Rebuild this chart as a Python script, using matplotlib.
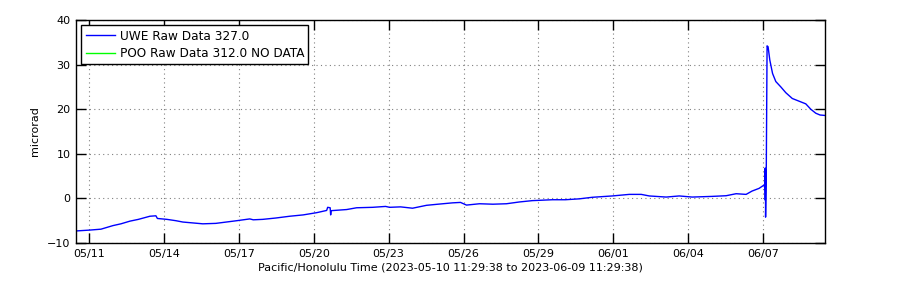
import datetime as dt
import matplotlib
matplotlib.use("Agg")
import matplotlib.pyplot as plt
import matplotlib.dates as mdates
from matplotlib.ticker import FixedLocator

start = dt.datetime(2023, 5, 10, 11, 29, 38)
end = dt.datetime(2023, 6, 9, 11, 29, 38)

# days after start, microrad
day_offset = [0.0, 0.56, 1.0, 1.48, 1.8, 2.16, 2.5, 2.96, 3.2, 3.26, 3.64, 4.0, 4.28,
              5.08, 5.6, 6.44, 6.96, 7.1, 7.48, 8.0, 8.56, 9.1, 9.64, 10.04, 10.08,
              10.18, 10.2, 10.22, 10.84, 11.24, 11.88, 12.4, 12.56, 13.0, 13.48, 14.04,
              14.5, 15.08, 15.4, 15.64, 16.16, 16.7, 17.24, 17.76, 18.28, 19.08, 19.6,
              20.16, 20.68, 21.48, 22.16, 22.64, 22.96, 23.64, 24.16, 24.68, 25.48,
              26.04, 26.44, 26.84, 27.08, 27.36, 27.56, 27.6, 27.605, 27.61, 27.615,
              27.62, 27.65, 27.68, 27.72, 27.79, 27.9, 28.03, 28.23, 28.43, 28.69,
              28.96, 29.23, 29.43, 29.63, 29.8, 30.0]
uwe_values = [-7.3, -7.1, -6.9, -6.1, -5.7, -5.1, -4.7, -4.0, -3.9, -4.5, -4.7, -5.0, -5.3,
              -5.7, -5.6, -5.0, -4.6, -4.8, -4.7, -4.4, -4.0, -3.7, -3.2, -2.7, -2.0,
              -2.1, -3.7, -2.75, -2.5, -2.1, -2.0, -1.8, -2.0, -1.9, -2.2, -1.55,
              -1.3, -1.0, -0.9, -1.5, -1.2, -1.3, -1.2, -0.8, -0.5, -0.3, -0.3,
              -0.1, 0.25, 0.55, 0.9, 0.9, 0.55, 0.3, 0.55, 0.3, 0.45,
              0.6, 1.05, 0.9, 1.65, 2.25, 3.0, 2.0, 6.8, -0.4, 6.5,
              -4.2, 7.9, 34.2, 34.0, 31.0, 28.0, 26.2, 25.0, 23.7, 22.4,
              21.8, 21.2, 20.0, 19.1, 18.7, 18.6]
poo_days = []
poo_values = []

tick_dates = [dt.datetime(2023, 5, 11) + dt.timedelta(days=3 * i) for i in range(10)]
y_ticks = [-10, 0, 10, 20, 30, 40]

uwe_times = [start + dt.timedelta(days=d) for d in day_offset]
poo_times = [start + dt.timedelta(days=d) for d in poo_days]

fig = plt.figure(figsize=(9, 3), dpi=100)
ax = fig.add_axes([76 / 900, 57 / 300, 749 / 900, 223 / 300])

ax.plot(uwe_times, uwe_values, color=(0, 0, 1), lw=1.0, label="UWE Raw Data 327.0")
ax.plot(poo_times, poo_values, color=(0, 1, 0), lw=1.0, label="POO Raw Data 312.0 NO DATA")

ax.set_xlim(start, end)
ax.set_ylim(-10, 40)
ax.set_yticks(y_ticks)
ax.xaxis.set_major_locator(FixedLocator(mdates.date2num(tick_dates)))
ax.xaxis.set_major_formatter(mdates.DateFormatter("%m/%d"))

ax.tick_params(direction="in", length=7, width=1, top=True, right=True, labelsize=8, pad=4)
ax.grid(True, linestyle=(0, (1, 3)), color="gray", linewidth=0.8)
for s in ax.spines.values():
    s.set_linewidth(1)

ax.set_xlabel("Pacific/Honolulu Time (2023-05-10 11:29:38 to 2023-06-09 11:29:38)", fontsize=8, labelpad=3)
ax.set_ylabel("microrad", fontsize=8, labelpad=5)

leg = ax.legend(loc="upper left", fontsize=8.7, frameon=True, fancybox=False,
                edgecolor="black", framealpha=1, borderpad=0.35, handlelength=2.4,
                handletextpad=0.4, labelspacing=0.35, borderaxespad=0.45)
leg.get_frame().set_linewidth(1)

fig.savefig("out.png", dpi=100)
